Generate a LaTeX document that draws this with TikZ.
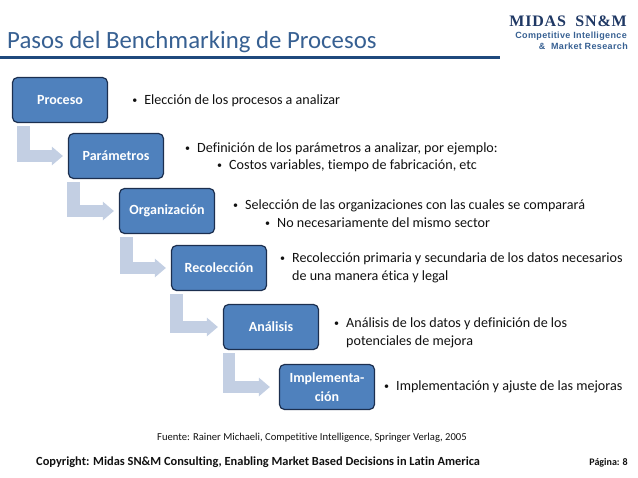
\documentclass[tikz,border=0pt]{standalone}
\usepackage{fontspec}
\setmainfont[Ligatures={NoCommon}]{Carlito}
\newfontfamily\logoserif[LetterSpace=5]{Liberation Serif}
\newfontfamily\logosans[LetterSpace=4]{Liberation Sans}
\usetikzlibrary{positioning, arrows.meta}
\usepackage{xcolor}
\definecolor{titleblue}{HTML}{376092}
\definecolor{ruleblue}{HTML}{1F497D}
\definecolor{stepblue}{HTML}{4F81BD}
\definecolor{stepline}{HTML}{1C2F4F}
\definecolor{bendblue}{HTML}{C3CFE3}
\definecolor{logoblue}{HTML}{1F3864}
\definecolor{bodytext}{HTML}{111111}
\newcommand{\itemdot}{\makebox[13pt][l]{\hspace{1pt}\raisebox{1pt}{\fontsize{10}{10}\selectfont•}}}

\begin{document}
\begin{tikzpicture}[
                x=1pt, y=-1pt,
                stepbox/.style={rectangle, draw=stepline, line width=1.2pt, rounded corners=5pt, minimum width=95pt, minimum height=45pt, inner sep=0pt, align=center, fill=stepblue, text=white, font=\fontsize{14}{19}\selectfont\bfseries},
                bullet/.style={inner sep=0pt, align=left, text=bodytext, font=\fontsize{14.1}{18}\selectfont},
                bentarrow/.style={-{Triangle[length=11pt, width=18pt]}, line width=12.5pt, bendblue, line join=miter}
            ]
            \useasboundingbox (0,0) rectangle (638,478);

            % Heading
            \node[anchor=base west, inner sep=0pt, text=titleblue, font=\fontsize{24.8}{30}\selectfont] (title) at (7,49) {Pasos del Benchmarking de Procesos};
            \coordinate (ruleleft) at (0,58);
            \coordinate (ruleright) at (500,58);
            \draw[ruleblue, line width=3pt] (ruleleft) -- (ruleright);

            % Logo
            \node[anchor=base east, inner sep=0pt, text=logoblue, font=\fontsize{16}{18}\selectfont\logoserif\bfseries] (logoname) at (627,27) {MIDAS\ \ SN\&M};
            \node[anchor=base east, inner sep=0pt, text=titleblue, font=\fontsize{9}{11}\selectfont\logosans\bfseries] (logoline) at (627,38.5) {Competitive Intelligence};
            \node[anchor=base east, inner sep=0pt, text=titleblue, font=\fontsize{9}{11}\selectfont\logosans\bfseries] (logomarket) at (628,50) {\&\ \ Market Research};

            % Steps
            \node[stepbox] (proceso) at (60,100) {Proceso};
            \node[stepbox] (parametros) at (116,156) {Parámetros};
            \node[stepbox] (organizacion) at (167,211) {Organización};
            \node[stepbox] (recoleccion) at (219,268) {Recolección};
            \node[stepbox] (analisis) at (271,327) {Análisis};
            \node[stepbox] (implementacion) at (327,387) {Implementa-\\ción};

            % Bent arrows
            \draw[bentarrow] ([xshift=11.5pt,yshift=-3pt]proceso.south west) |- ([xshift=-5pt]parametros.west);
            \draw[bentarrow] ([xshift=5.5pt,yshift=-3pt]parametros.south west) |- ([xshift=-5pt]organizacion.west);
            \draw[bentarrow] ([xshift=7.5pt,yshift=-3pt]organizacion.south west) |- ([xshift=-5pt]recoleccion.west);
            \draw[bentarrow] ([xshift=5.5pt,yshift=-3pt]recoleccion.south west) |- ([xshift=-5pt]analisis.west);
            \draw[bentarrow] ([xshift=6pt,yshift=-3pt]analisis.south west) |- ([xshift=-9pt]implementacion.west);

            % Bullets
            \node[bullet, right=23pt of proceso, yshift=-1pt] (procesotxt) {\itemdot Elección de los procesos a analizar};
            \node[bullet, anchor=west] (parametrostxt) at (184,149) {\itemdot Definición de los parámetros a analizar, por ejemplo:};
            \node[bullet, anchor=west] (parametrosub) at (216,166) {\itemdot Costos variables, tiempo de fabricación, etc};
            \node[bullet, anchor=west] (organizaciontxt) at (232,206) {\itemdot Selección de las organizaciones con las cuales se comparará};
            \node[bullet, anchor=west] (organizacionsub) at (264,223) {\itemdot No necesariamente del mismo sector};
            \node[bullet, anchor=west] (recolecciontxt) at (279,268) {\itemdot Recolección primaria y secundaria de los datos necesarios\\\hspace{13pt}de una manera ética y legal};
            \node[bullet, anchor=west] (analisistxt) at (333,333) {\itemdot Análisis de los datos y definición de los\\\hspace{13pt}potenciales de mejora};
            \node[bullet, anchor=west] (implementaciontxt) at (383,387) {\itemdot Implementación y ajuste de las mejoras};

            % Footer
            \node[anchor=base west, inner sep=0pt, text=bodytext, font=\fontsize{10.6}{13}\selectfont] (fuente) at (157,441) {Fuente: Rainer Michaeli, Competitive Intelligence, Springer Verlag, 2005};
            \node[anchor=base west, inner sep=0pt, text=bodytext, font=\fontsize{12.4}{15}\selectfont\bfseries] (copyright) at (36,466) {Copyright: Midas SN\&M Consulting, Enabling Market Based Decisions in Latin America};
            \node[anchor=base east, inner sep=0pt, text=bodytext, font=\fontsize{10}{12}\selectfont\bfseries] (pagina) at (628,466) {Página: 8};
        \end{tikzpicture}
\end{document}
